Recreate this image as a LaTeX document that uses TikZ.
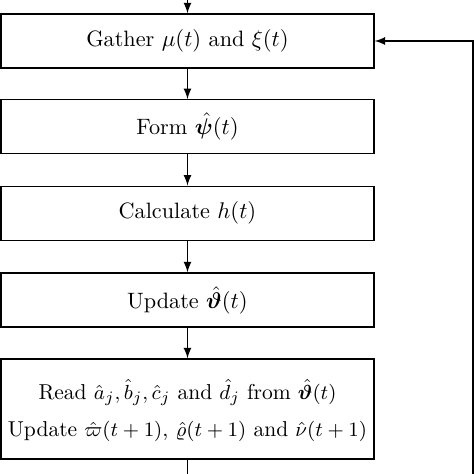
\documentclass[tikz,border=0pt]{standalone}
\usepackage{amsmath}
\usepackage{bm}
\usetikzlibrary{positioning}

\tikzset{
  stepbox/.style={draw, semithick, minimum width=5.78cm, minimum height=0.837cm, align=center, inner sep=0pt,
    font=\fontsize{9.8}{12}\selectfont},
  flow/.style={semithick, -latex},
}

\begin{document}
\begin{tikzpicture}
  \useasboundingbox (0,0) rectangle (7.347,-7.347);
  \clip (0,0) rectangle (7.347,-7.347);
  % main chain of steps
  \node[stepbox] (gather) at (2.906,-0.6355) {Gather $\mu(t)$ and $\xi(t)$};
  \node[stepbox] (form) at (2.906,-1.965) {Form $\hat{\bm{\psi}}(t)$};
  \node[stepbox] (calc) at (2.906,-3.305) {Calculate $h(t)$};
  \node[stepbox] (upd) at (2.906,-4.65) {Update $\hat{\bm{\vartheta}}(t)$};
  \node[stepbox, minimum height=1.55cm, font=\fontsize{9.5}{11.6}\selectfont] (read) at (2.906,-6.34)
    {\rule{0pt}{10pt}Read $\hat{a}_j, \hat{b}_j, \hat{c}_j$ and $\hat{d}_j$ from $\hat{\bm{\vartheta}}(t)$\\[5pt]
     Update $\hat{\varpi}(t+1)$, $\hat{\varrho}(t+1)$ and $\hat{\nu}(t+1)$};
  % entry and feedback loop
  \coordinate (start) at (2.906,0.3);
  \coordinate (loop) at (7.33,-7.8);
  \draw[flow] (start) -- (gather);
  \draw[flow] (gather) -- (form);
  \draw[flow] (form) -- (calc);
  \draw[flow] (calc) -- (upd);
  \draw[flow] (upd) -- (read);
  \draw[flow] (read.south) |- (loop) |- (gather.east);
\end{tikzpicture}
\end{document}
